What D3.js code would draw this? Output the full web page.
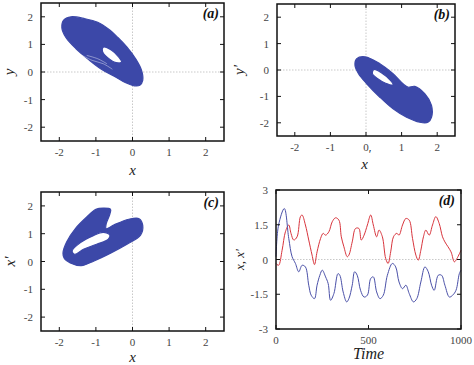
<!DOCTYPE html>
<html>
<head>
<meta charset="utf-8">
<script src="https://d3js.org/d3.v7.min.js"></script>
<style>
  body { margin: 0; background: #fff; }
  svg { display: block; }
  text { font-family: "Liberation Serif", "DejaVu Serif", serif; }
  .tick-label { font-size: 11px; fill: #444; }
  .axis-label { font-size: 15px; font-style: italic; fill: #222; }
  .panel-tag { font-size: 14px; font-style: italic; font-weight: bold; fill: #111; }
</style>
</head>
<body>
<svg id="chart" width="474" height="365"></svg>
<script>
// ticks
const phaseTicks = [-2, -1, 0, 1, 2];
const timeTicks = [0, 500, 1000];
const seriesTicks = [3, 1.5, 0, -1.5, -3];

// (a) x vs y : envelope of the attractor and its empty core
const aOutline = [[-1.68, 2.0], [-1.3, 1.93], [-0.95, 1.8], [-0.65, 1.55], [-0.4, 1.25], [-0.15, 0.9],
  [0.1, 0.45], [0.25, 0.05], [0.28, -0.3], [0.2, -0.48], [0.05, -0.5], [-0.2, -0.38], [-0.5, -0.15],
  [-0.85, 0.1], [-1.2, 0.45], [-1.55, 0.85], [-1.82, 1.25], [-1.93, 1.6], [-1.88, 1.88]];
const aHole = [[-0.8, 0.9], [-0.58, 0.8], [-0.38, 0.55], [-0.3, 0.36], [-0.45, 0.34], [-0.68, 0.52], [-0.82, 0.75]];
// thin empty streaks inside (a)
const aStreaks = [
  [[-1.4, 0.62], [-1.1, 0.42], [-0.8, 0.3], [-0.55, 0.1]],
  [[-1.25, 0.6], [-0.95, 0.48], [-0.7, 0.3]]
];

// (b) x' vs y'
const bOutline = [[-0.26, 0.43], [-0.03, 0.5], [0.39, 0.24], [0.76, -0.14], [1.04, -0.52], [1.18, -0.65],
  [1.37, -0.62], [1.65, -0.9], [1.84, -1.34], [1.84, -1.79], [1.74, -1.98], [1.51, -1.98], [1.14, -1.79],
  [0.76, -1.47], [0.39, -1.03], [0.02, -0.52], [-0.21, -0.14], [-0.31, 0.18]];
const bHole = [[0.22, 0.02], [0.45, -0.12], [0.68, -0.38], [0.76, -0.56], [0.55, -0.5], [0.32, -0.32], [0.18, -0.14]];

// (c) x vs x'
const cOutline = [[-1.9, 0.3], [-1.8, 0.7], [-1.55, 1.2], [-1.25, 1.6], [-1.0, 1.88], [-0.8, 1.92],
  [-0.6, 1.88], [-0.62, 1.7], [-0.72, 1.35], [-0.72, 1.18], [-0.5, 1.32], [-0.1, 1.52], [0.18, 1.54],
  [0.28, 1.3], [0.22, 0.95], [-0.15, 0.62], [-0.6, 0.3], [-1.05, 0.02], [-1.4, -0.15], [-1.7, -0.05],
  [-1.86, 0.1]];
const cHole = [[-1.65, 0.38], [-1.42, 0.68], [-1.07, 0.93], [-0.8, 1.05], [-0.62, 0.95], [-0.66, 0.8],
  [-0.98, 0.62], [-1.34, 0.44], [-1.58, 0.26]];

// (d) time series
const blueTrace = [[0, 0.12], [14, 1.49], [45, 2.2], [69, 0.91], [87, 0.12], [105, -0.17], [123, -0.53],
  [141, -0.25], [159, -0.32], [177, -1.11], [190, -1.54], [208, -1.69], [222, -1.11], [237, -0.68],
  [250, -0.46], [268, -0.75], [282, -1.04], [295, -1.76], [313, -1.47], [335, -0.61], [345, -0.68],
  [363, -1.4], [382, -1.83], [394, -1.69], [412, -1.11], [425, -0.53], [439, -0.68], [457, -1.33],
  [476, -1.62], [494, -1.54], [512, -0.82], [526, -0.75], [544, -1.4], [562, -1.69], [580, -1.54],
  [602, -0.68], [629, -0.17], [647, -0.32], [665, -0.97], [684, -1.26], [702, -1.11], [720, -1.47],
  [743, -1.83], [761, -1.69], [783, -0.97], [805, -0.32], [823, -0.53], [841, -1.11], [855, -1.33],
  [877, -0.68], [895, -0.68], [913, -1.11], [937, -1.62], [955, -1.54], [973, -1.33], [991, -0.61],
  [1000, -0.46]];
const redTrace = [[0, -0.17], [14, -0.25], [33, 0.4], [51, 1.2], [69, 1.49], [81, 1.13], [96, 0.84],
  [114, 0.98], [132, 1.85], [141, 1.92], [159, 1.49], [177, 0.84], [195, 0.19], [208, -0.22], [222, 0.33],
  [241, 0.91], [255, 1.13], [268, 1.05], [286, 1.2], [304, 1.63], [322, 1.8], [340, 1.7], [353, 0.98],
  [367, 0.55], [385, 0.12], [394, 0.19], [412, 0.76], [430, 1.34], [448, 1.34], [461, 0.84], [476, 1.05],
  [494, 1.49], [512, 1.92], [526, 1.49], [544, 0.98], [557, 1.27], [575, 0.98], [593, 0.04], [606, -0.17],
  [620, 0.33], [635, 0.98], [653, 1.13], [665, 1.05], [684, 1.49], [702, 1.77], [720, 1.7], [738, 0.91],
  [756, 0.19], [769, -0.03], [783, 0.4], [797, 0.98], [810, 1.27], [828, 1.05], [846, 1.49], [864, 1.85],
  [882, 1.56], [900, 0.98], [913, 0.76], [946, 0.33], [964, -0.1], [978, 0.04], [1000, 0.4]];

const BLUE = '#3c48a8';
const RED = '#d8343c';

const svg = d3.select('#chart');

function drawGuides(g, x, y, opt) {
  const [x0, x1] = x.range();
  const [y0, y1] = y.range();
  if (opt.vzero) g.append('line').attr('x1', x(0)).attr('x2', x(0)).attr('y1', y0).attr('y2', y1)
    .attr('stroke', '#bbb').attr('stroke-width', 0.8).attr('stroke-dasharray', '1.5,1.5');
  if (opt.hzero) g.append('line').attr('x1', x0).attr('x2', x1).attr('y1', y(0)).attr('y2', y(0))
    .attr('stroke', '#bbb').attr('stroke-width', 0.8).attr('stroke-dasharray', '1.5,1.5');
}

function drawAxes(g, x, y, xt, yt, fmtX, fmtY) {
  const [x0, x1] = x.range();
  const [y0, y1] = y.range();
  g.append('rect').attr('x', x0).attr('y', y1).attr('width', x1 - x0).attr('height', y0 - y1)
    .attr('fill', 'none').attr('stroke', '#111').attr('stroke-width', 1.5);
  xt.forEach(t => {
    g.append('line').attr('x1', x(t)).attr('x2', x(t)).attr('y1', y0).attr('y2', y0 - 4).attr('stroke', '#111');
    g.append('line').attr('x1', x(t)).attr('x2', x(t)).attr('y1', y1).attr('y2', y1 + 4).attr('stroke', '#111');
    g.append('text').attr('class', 'tick-label').attr('x', x(t)).attr('y', y0 + 15)
      .attr('text-anchor', 'middle').text(fmtX(t));
  });
  yt.forEach(t => {
    g.append('line').attr('x1', x0).attr('x2', x0 + 4).attr('y1', y(t)).attr('y2', y(t)).attr('stroke', '#111');
    g.append('line').attr('x1', x1).attr('x2', x1 - 4).attr('y1', y(t)).attr('y2', y(t)).attr('stroke', '#111');
    g.append('text').attr('class', 'tick-label').attr('x', x0 - 8).attr('y', y(t) + 4)
      .attr('text-anchor', 'end').text(fmtY(t));
  });
}

const fmt = d => d < 0 ? '-' + Math.abs(d) : String(d);

function phasePanel(frame, outline, hole, streaks, tag, xlab, ylab, opt) {
  const x = d3.scaleLinear().domain([-2.5, 2.5]).range([frame.l, frame.r]);
  const y = d3.scaleLinear().domain([-2.5, 2.5]).range([frame.b, frame.t]);
  const g = svg.append('g');
  drawGuides(g, x, y, opt);
  const closed = d3.line().x(d => x(d[0])).y(d => y(d[1])).curve(d3.curveCatmullRomClosed);
  const open = d3.line().x(d => x(d[0])).y(d => y(d[1])).curve(d3.curveCatmullRom);
  g.append('path').attr('d', closed(outline) + closed(hole))
    .attr('fill', BLUE).attr('fill-rule', 'evenodd')
    .attr('stroke', BLUE).attr('stroke-width', 1.2);
  streaks.forEach(s => g.append('path').attr('d', open(s)).attr('fill', 'none')
    .attr('stroke', '#fff').attr('stroke-opacity', 0.6).attr('stroke-width', 0.7));
  drawAxes(g, x, y, phaseTicks, phaseTicks, fmt, fmt);
  g.append('text').attr('class', 'panel-tag').attr('x', frame.r - 5).attr('y', frame.t + 15)
    .attr('text-anchor', 'end').text(tag);
  const xl = g.append('text').attr('class', 'axis-label').attr('x', x(0)).attr('y', frame.b + opt.xlabDy)
    .attr('text-anchor', 'middle').text(xlab[0]);
  if (xlab[1]) xl.append('tspan').attr('dy', -11).style('font-size', '12px').text(xlab[1]);
  g.append('text').attr('class', 'axis-label')
    .attr('transform', `translate(${frame.l - opt.ylabDx},${y(0)}) rotate(-90)`)
    .attr('text-anchor', 'middle').text(ylab);
}

phasePanel({ l: 41, r: 224, t: 3, b: 141 }, aOutline, aHole, aStreaks, '(a)', ['x'], 'y',
  { vzero: true, hzero: true, xlabDy: 34, ylabDx: 27 });
phasePanel({ l: 277, r: 455, t: 4, b: 136 }, bOutline, bHole, [], '(b)', ['x', '′'], 'y′',
  { vzero: true, hzero: true, xlabDy: 33, ylabDx: 33 });
phasePanel({ l: 41, r: 224, t: 192, b: 331 }, cOutline, cHole, [], '(c)', ['x'], 'x′',
  { vzero: true, hzero: false, xlabDy: 31, ylabDx: 26 });

// (d) time series
{
  const frame = { l: 276, r: 461, t: 190, b: 329 };
  const x = d3.scaleLinear().domain([0, 1000]).range([frame.l, frame.r]);
  const y = d3.scaleLinear().domain([-3, 3]).range([frame.b, frame.t]);
  const g = svg.append('g');
  drawGuides(g, x, y, { hzero: true });
  const line = d3.line().x(d => x(d[0])).y(d => y(d[1])).curve(d3.curveCatmullRom);
  g.append('path').attr('d', line(redTrace)).attr('fill', 'none').attr('stroke', RED).attr('stroke-width', 1);
  g.append('path').attr('d', line(blueTrace)).attr('fill', 'none').attr('stroke', '#4a50a8').attr('stroke-width', 1);
  drawAxes(g, x, y, timeTicks, seriesTicks, String, fmt);
  g.append('text').attr('class', 'panel-tag').attr('x', frame.r - 6).attr('y', frame.t + 15)
    .attr('text-anchor', 'end').text('(d)');
  g.append('text').attr('class', 'axis-label').attr('x', x(500)).attr('y', frame.b + 30)
    .attr('text-anchor', 'middle').style('font-size', '16px').text('Time');
  g.append('text').attr('class', 'axis-label')
    .attr('transform', `translate(${frame.l - 32},${y(0)}) rotate(-90)`)
    .attr('text-anchor', 'middle').style('font-size', '13px').text('x, x′');
}
</script>
</body>
</html>
